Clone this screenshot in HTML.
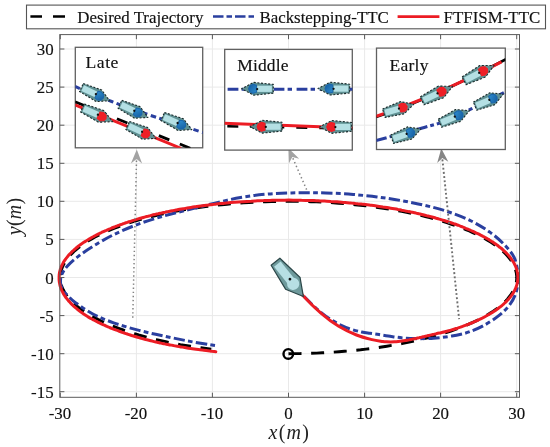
<!DOCTYPE html>
<html><head><meta charset="utf-8"><title>Trajectory</title>
<style>html,body{margin:0;padding:0;background:#fff}svg{display:block}</style></head>
<body>
<svg width="550" height="447" viewBox="0 0 550 447" style="display:block">
<defs>
<linearGradient id="bg" x1="0" y1="0" x2="1" y2="1"><stop offset="0" stop-color="#2f8fd0"/><stop offset="1" stop-color="#14599c"/></linearGradient>
<g id="bb"><polygon points="-15.6,-4.3 3.9,-6.3 15.9,0.0 3.9,6.3 -15.6,4.3" fill="#5f9193" stroke="#1b2b2c" stroke-width="1.1" stroke-dasharray="2 1.6" stroke-linejoin="round"/><rect x="-14.2" y="-3.05" width="14.6" height="6.1" fill="#b4e0e4"/><polygon points="1.2,-3.5 4.6,-4.4 7.8,-3.0 9.0,0.0 7.8,3.0 4.6,4.4 1.2,3.5" fill="url(#bg)" stroke="#1a66ad" stroke-width="1" stroke-linejoin="round"/><circle cx="0.4" cy="-0.2" r="1.1" fill="#111"/></g>
<g id="br"><polygon points="-15.6,-4.3 3.9,-6.3 15.9,0.0 3.9,6.3 -15.6,4.3" fill="#5f9193" stroke="#1b2b2c" stroke-width="1.1" stroke-dasharray="2 1.6" stroke-linejoin="round"/><rect x="-14.2" y="-3.05" width="14.6" height="6.1" fill="#b4e0e4"/><polygon points="1.2,-3.5 4.6,-4.4 7.8,-3.0 9.0,0.0 7.8,3.0 4.6,4.4 1.2,3.5" fill="#ee1f26" stroke="#ee1f26" stroke-width="1" stroke-linejoin="round"/><circle cx="0.4" cy="-0.2" r="1.1" fill="#111"/></g>
<g id="bm"><polygon points="0.0,-5.6 27.7,-9.3 44.6,0.0 27.7,9.3 0.0,5.6" fill="#6e9a9c" stroke="#2b4648" stroke-width="1.2" stroke-linejoin="round"/><rect x="3" y="-4.2" width="23" height="8.4" fill="#b7dfe4"/><circle cx="28.3" cy="0" r="6.1" fill="#b7dfe4"/><circle cx="22.6" cy="-0.4" r="1.4" fill="#111"/></g>
<clipPath id="c1"><rect x="75.3" y="47.3" width="127.4" height="100.5"/></clipPath>
<clipPath id="c2"><rect x="224.7" y="49.4" width="127.6" height="100.7"/></clipPath>
<clipPath id="c3"><rect x="376.5" y="48.1" width="128.8" height="101.4"/></clipPath>
</defs>
<rect width="550" height="447" fill="#fff"/>
<path d="M136.4 34.6V397.3M212.4 34.6V397.3M288.5 34.6V397.3M364.6 34.6V397.3M440.6 34.6V397.3M516.7 34.6V397.3M59.8 391.7H519.5M59.8 353.7H519.5M59.8 315.6H519.5M59.8 277.5H519.5M59.8 239.4H519.5M59.8 201.3H519.5M59.8 163.3H519.5M59.8 125.2H519.5M59.8 87.1H519.5M59.8 49.0H519.5" stroke="#e9e9e9" stroke-width="1" fill="none"/>
<path d="M60.3 397.3v-4.6M60.3 34.6v4.6M136.4 397.3v-4.6M136.4 34.6v4.6M212.4 397.3v-4.6M212.4 34.6v4.6M288.5 397.3v-4.6M288.5 34.6v4.6M364.6 397.3v-4.6M364.6 34.6v4.6M440.6 397.3v-4.6M440.6 34.6v4.6M516.7 397.3v-4.6M516.7 34.6v4.6M59.8 391.7h4.6M519.5 391.7h-4.6M59.8 353.7h4.6M519.5 353.7h-4.6M59.8 315.6h4.6M519.5 315.6h-4.6M59.8 277.5h4.6M519.5 277.5h-4.6M59.8 239.4h4.6M519.5 239.4h-4.6M59.8 201.3h4.6M519.5 201.3h-4.6M59.8 163.3h4.6M519.5 163.3h-4.6M59.8 125.2h4.6M519.5 125.2h-4.6M59.8 87.1h4.6M519.5 87.1h-4.6M59.8 49.0h4.6M519.5 49.0h-4.6" stroke="#5a5a5a" stroke-width="1" fill="none"/>
<path d="M288.5 353.7L294.1 353.6L299.8 353.6L305.4 353.5L311.0 353.3L316.7 353.1L322.3 352.8L327.8 352.5L333.4 352.2L338.9 351.8L344.4 351.3L349.8 350.9L355.3 350.3L360.6 349.8L366.0 349.1L371.3 348.5L376.5 347.8L381.7 347.0L386.8 346.2L391.9 345.4L396.9 344.5L401.8 343.6L406.7 342.7L411.5 341.7L416.2 340.6L420.8 339.5L425.4 338.4L429.9 337.3L434.3 336.1L438.6 334.9L442.8 333.6L446.9 332.3L450.9 331.0L454.8 329.7L458.6 328.3L462.3 326.8L465.9 325.4L469.4 323.9L472.8 322.4L476.1 320.9L479.3 319.3L482.3 317.7L485.2 316.1L488.0 314.5L490.7 312.8L493.3 311.1L495.7 309.4L498.0 307.7L500.2 306.0L502.2 304.2L504.1 302.4L505.9 300.7L507.6 298.9L509.1 297.0L510.5 295.2L511.7 293.4L512.8 291.5L513.8 289.7L514.6 287.8L515.3 285.9L515.9 284.1L516.3 282.2L516.6 280.3L516.7 278.4L516.7 276.5L516.5 274.6L516.3 272.8L515.8 270.9L515.3 269.0L514.6 267.1L513.8 265.3L512.8 263.4L511.7 261.6L510.4 259.7L509.0 257.9L507.5 256.1L505.9 254.3L504.1 252.5L502.2 250.7L500.1 249.0L497.9 247.2L495.6 245.5L493.2 243.8L490.6 242.1L487.9 240.5L485.1 238.8L482.2 237.2L479.2 235.6L476.0 234.1L472.7 232.6L469.3 231.0L465.8 229.6L462.2 228.1L458.5 226.7L454.7 225.3L450.8 224.0L446.8 222.6L442.6 221.3L438.4 220.1L434.1 218.9L429.7 217.7L425.3 216.5L420.7 215.4L416.1 214.3L411.3 213.3L406.5 212.3L401.7 211.4L396.7 210.5L391.7 209.6L386.7 208.7L381.5 208.0L376.4 207.2L371.1 206.5L365.8 205.8L360.5 205.2L355.1 204.7L349.7 204.1L344.2 203.6L338.7 203.2L333.2 202.8L327.7 202.5L322.1 202.2L316.5 201.9L310.9 201.7L305.3 201.5L299.6 201.4L294.0 201.4L288.3 201.3L282.7 201.4L277.1 201.4L271.4 201.6L265.8 201.7L260.2 201.9L254.6 202.2L249.0 202.5L243.5 202.8L237.9 203.2L232.5 203.7L227.0 204.2L221.6 204.7L216.2 205.3L210.9 205.9L205.6 206.5L200.4 207.3L195.2 208.0L190.0 208.8L185.0 209.6L180.0 210.5L175.0 211.4L170.2 212.4L165.4 213.4L160.7 214.4L156.0 215.5L151.5 216.6L147.0 217.7L142.6 218.9L138.3 220.2L134.1 221.4L130.0 222.7L126.0 224.0L122.1 225.4L118.3 226.8L114.6 228.2L111.0 229.6L107.5 231.1L104.1 232.6L100.8 234.2L97.7 235.7L94.6 237.3L91.7 238.9L88.9 240.6L86.2 242.2L83.7 243.9L81.3 245.6L79.0 247.3L76.8 249.1L74.7 250.8L72.8 252.6L71.0 254.4L69.4 256.2L67.9 258.0L66.5 259.8L65.3 261.7L64.2 263.5L63.2 265.4L62.4 267.2L61.7 269.1L61.1 271.0L60.7 272.9L60.4 274.8L60.3 276.6L60.3 278.5L60.5 280.4L60.7 282.3L61.2 284.2L61.7 286.0L62.4 287.9L63.3 289.8L64.3 291.6L65.4 293.5L66.6 295.3L68.0 297.1L69.5 299.0L71.2 300.8L73.0 302.5L74.9 304.3L77.0 306.1L79.1 307.8L81.5 309.5L83.9 311.2L86.5 312.9L89.1 314.6L91.9 316.2L94.9 317.8L97.9 319.4L101.1 321.0L104.4 322.5L107.8 324.0L111.3 325.5L114.9 326.9L118.6 328.3L122.4 329.7L126.3 331.1L130.4 332.4L134.5 333.7L138.7 335.0L143.0 336.2L147.4 337.4L151.9 338.5L156.4 339.6L161.1 340.7L165.8 341.7L170.6 342.7L175.5 343.7L180.4 344.6L185.4 345.4L190.5 346.3L195.6 347.1L200.8 347.8L206.0 348.5L211.3 349.2" stroke="#000" stroke-width="2.9" stroke-dasharray="13 9.65" fill="none"/>
<path d="M288.5 277.5C290.9 280.5 297.7 289.7 303.1 295.5C308.5 301.3 315.9 308.1 320.9 312.3C325.9 316.5 328.8 318.2 333.0 320.8C337.2 323.4 341.6 325.7 346.4 327.6C351.2 329.5 357.7 331.1 361.6 332.0C365.5 332.9 367.1 332.9 370.0 333.3C372.9 333.7 376.1 334.2 379.1 334.6C382.1 335.1 385.2 335.6 388.2 336.0C391.2 336.4 394.3 336.9 397.3 337.3C400.3 337.7 403.4 338.0 406.4 338.2C409.4 338.4 412.5 338.5 415.5 338.6C418.5 338.7 421.5 338.7 424.5 338.6C427.5 338.5 430.6 338.4 433.6 338.2C436.6 338.0 439.7 337.7 442.7 337.3C445.7 336.9 448.8 336.5 451.8 336.0C454.8 335.5 457.9 334.9 460.9 334.2C463.9 333.5 466.1 333.1 470.0 331.6C473.9 330.1 479.3 328.1 484.2 325.3C489.1 322.6 495.2 318.5 499.4 315.1C503.6 311.7 506.9 308.5 509.6 304.9C512.3 301.3 514.4 297.4 515.8 293.4C517.2 289.4 517.7 284.5 518.0 280.7C518.3 276.9 518.3 274.4 517.6 270.5C516.9 266.6 516.1 261.3 513.9 257.0C511.7 252.7 508.3 248.8 504.4 244.7C500.4 240.6 495.7 236.3 490.2 232.4C484.7 228.5 478.3 224.5 471.2 221.0C464.1 217.5 455.3 214.2 447.4 211.5C439.5 208.8 431.6 206.9 423.7 205.1C415.8 203.2 407.8 201.8 400.0 200.4C392.2 199.0 384.5 197.9 377.0 196.9C369.5 195.9 360.8 195.2 355.0 194.6C349.2 194.0 348.7 193.9 342.3 193.6C335.9 193.3 325.3 192.9 316.8 192.8C308.3 192.7 299.9 192.7 291.4 192.9C282.9 193.1 274.4 193.4 265.9 194.2C257.4 195.0 249.0 196.0 240.5 197.5C232.0 199.0 223.4 201.1 215.0 203.1C206.6 205.1 198.4 207.2 190.0 209.3C181.6 211.4 173.0 213.4 164.5 215.8C156.0 218.2 147.6 220.7 139.1 223.8C130.6 227.0 121.2 231.0 113.6 234.7C106.0 238.4 99.2 242.5 93.3 246.2C87.4 249.8 82.4 253.2 78.0 256.6C73.6 260.0 69.6 263.7 67.0 266.5C64.4 269.3 63.4 271.4 62.3 273.5C61.2 275.6 60.9 277.2 60.6 279.0C60.4 280.8 60.4 282.7 60.8 284.5C61.2 286.3 61.9 288.2 63.0 290.0C64.1 291.8 65.4 293.4 67.5 295.5C69.6 297.6 71.2 299.6 75.5 302.7C79.8 305.8 87.0 310.8 93.3 314.2C99.6 317.6 106.0 320.1 113.6 322.8C121.2 325.5 130.6 328.2 139.1 330.4C147.6 332.6 156.0 334.4 164.5 336.2C173.0 338.0 181.6 339.8 190.0 341.4C198.4 343.0 210.8 344.9 215.0 345.6" stroke="#2a3f9f" stroke-width="3" stroke-dasharray="11.2 3.3 4.8 3.35" stroke-dashoffset="20.55" fill="none"/>
<path d="M288.5 277.5C290.9 280.6 297.7 289.9 303.1 295.8C308.5 301.7 315.0 308.0 320.9 313.1C326.8 318.2 332.8 322.7 338.7 326.3C344.6 329.9 350.9 332.8 356.5 335.0C362.1 337.2 367.6 338.5 372.0 339.6C376.4 340.7 380.4 341.1 382.8 341.5C385.3 341.9 385.5 341.8 386.8 341.8C388.0 341.9 389.3 341.9 390.6 341.9C391.9 341.9 393.2 341.9 394.4 341.8C395.7 341.8 396.9 341.7 398.2 341.5C399.4 341.4 400.6 341.2 401.9 341.1C403.1 340.9 404.3 340.7 405.5 340.5C406.7 340.3 407.9 340.1 409.1 339.9C410.3 339.6 411.4 339.4 412.6 339.1C413.8 338.9 414.9 338.6 416.1 338.4C417.3 338.1 418.4 337.9 419.5 337.6C420.7 337.4 421.8 337.1 423.0 336.8C424.1 336.6 425.2 336.3 426.3 336.1C427.4 335.8 428.5 335.5 429.6 335.3C430.7 335.0 431.8 334.8 432.9 334.5C434.0 334.3 435.1 334.0 436.2 333.8C437.3 333.5 438.3 333.3 439.4 333.1C440.5 332.8 441.5 332.6 442.6 332.3C443.6 332.1 444.6 331.8 445.7 331.5C446.7 331.3 447.7 331.0 448.7 330.7C449.7 330.5 450.8 330.2 451.7 329.9C452.7 329.6 453.7 329.3 454.7 329.0C455.7 328.7 456.6 328.4 457.6 328.1C458.5 327.8 459.5 327.5 460.4 327.2C461.3 326.8 462.3 326.5 463.2 326.2C464.1 325.9 465.0 325.5 465.9 325.2C466.8 324.9 467.7 324.5 468.5 324.2C469.4 323.8 470.3 323.5 471.1 323.1C472.0 322.8 472.8 322.4 473.6 322.1C474.5 321.7 475.3 321.4 476.1 321.0C476.9 320.7 477.7 320.3 478.5 319.9C479.3 319.6 480.1 319.2 480.8 318.8C481.6 318.4 482.4 318.1 483.1 317.7C483.9 317.3 484.6 316.9 485.3 316.5C486.0 316.1 486.7 315.7 487.4 315.3C488.1 314.9 488.8 314.5 489.5 314.1C490.2 313.7 490.8 313.3 491.5 312.9C492.2 312.5 492.8 312.1 493.4 311.7C494.1 311.3 494.7 310.9 495.3 310.5C495.9 310.0 496.5 309.6 497.1 309.2C497.7 308.8 498.3 308.4 498.8 307.9C499.4 307.5 499.9 307.1 500.5 306.7C501.0 306.2 501.5 305.8 502.1 305.4C502.6 305.0 503.1 304.5 503.6 304.1C504.1 303.7 504.6 303.2 505.0 302.8C505.5 302.3 505.9 301.9 506.4 301.5C506.8 301.0 507.3 300.6 507.7 300.1C508.1 299.7 508.5 299.2 508.9 298.8C509.3 298.3 509.7 297.9 510.1 297.4C510.4 296.9 510.8 296.5 511.1 296.0C511.5 295.6 511.8 295.1 512.1 294.6C512.4 294.2 512.7 293.7 513.0 293.2C513.3 292.8 513.6 292.3 513.9 291.8C514.1 291.3 514.4 290.9 514.6 290.4C514.9 289.9 515.1 289.4 515.3 289.0C515.5 288.5 515.7 288.0 515.9 287.5C516.1 287.1 516.3 286.6 516.4 286.1C516.6 285.6 516.7 285.1 516.9 284.6C517.0 284.2 517.1 283.7 517.2 283.2C517.4 282.7 517.5 282.2 517.5 281.7C517.6 281.2 517.7 280.8 517.7 280.3C517.8 279.8 517.8 279.3 517.9 278.8C517.9 278.3 517.9 277.8 517.9 277.3C517.9 276.8 517.9 276.4 517.9 275.9C517.8 275.4 517.8 274.9 517.7 274.4C517.7 273.9 517.6 273.4 517.5 272.9C517.4 272.4 517.3 271.9 517.2 271.5C517.1 271.0 517.0 270.5 516.9 270.0C516.7 269.5 516.6 269.0 516.4 268.5C516.2 268.1 516.1 267.6 515.9 267.1C515.7 266.6 515.5 266.1 515.3 265.7C515.0 265.2 514.8 264.7 514.6 264.2C514.3 263.7 514.1 263.3 513.8 262.8C513.5 262.3 513.2 261.8 513.0 261.4C512.7 260.9 512.4 260.4 512.0 260.0C511.7 259.5 511.4 259.0 511.0 258.6C510.7 258.1 510.3 257.6 510.0 257.2C509.6 256.7 509.2 256.2 508.8 255.8C508.4 255.3 508.0 254.9 507.6 254.4C507.2 253.9 506.7 253.5 506.3 253.0C505.9 252.6 505.4 252.1 504.9 251.7C504.5 251.2 504.0 250.8 503.5 250.3C503.0 249.9 502.5 249.4 502.0 249.0C501.5 248.5 500.9 248.1 500.4 247.7C499.9 247.2 499.3 246.8 498.7 246.4C498.2 245.9 497.6 245.5 497.0 245.1C496.4 244.6 495.8 244.2 495.2 243.8C494.6 243.3 494.0 242.9 493.4 242.5C492.7 242.1 492.1 241.6 491.4 241.2C490.8 240.8 490.1 240.4 489.4 240.0C488.7 239.6 488.0 239.1 487.3 238.7C486.6 238.3 485.9 237.9 485.2 237.5C484.5 237.1 483.8 236.7 483.0 236.3C482.3 235.9 481.5 235.5 480.7 235.1C480.0 234.7 479.2 234.3 478.4 233.9C477.6 233.5 476.8 233.1 476.0 232.8C475.2 232.4 474.4 232.0 473.6 231.6C472.7 231.2 471.9 230.9 471.0 230.5C470.2 230.1 469.3 229.7 468.4 229.4C467.6 229.0 466.7 228.6 465.8 228.3C464.9 227.9 464.0 227.5 463.1 227.2C462.2 226.8 461.3 226.5 460.3 226.1C459.4 225.7 458.5 225.4 457.5 225.0C456.6 224.7 455.6 224.4 454.6 224.0C453.7 223.7 452.7 223.3 451.7 223.0C450.7 222.7 449.7 222.3 448.7 222.0C447.7 221.7 446.7 221.3 445.7 221.0C444.7 220.7 443.6 220.4 442.6 220.1C441.5 219.8 440.5 219.4 439.4 219.1C438.4 218.8 437.3 218.5 436.2 218.2C435.2 217.9 434.1 217.6 433.0 217.3C431.9 217.0 430.8 216.7 429.7 216.4C428.6 216.1 427.5 215.9 426.4 215.6C425.2 215.3 424.1 215.0 423.0 214.7C421.8 214.5 420.7 214.2 419.5 213.9C418.4 213.6 417.2 213.4 416.0 213.1C414.9 212.9 413.7 212.6 412.5 212.3C411.3 212.1 410.2 211.8 409.0 211.6C407.8 211.3 406.6 211.1 405.4 210.9C404.1 210.6 402.9 210.4 401.7 210.2C400.5 209.9 399.3 209.7 398.0 209.5C396.8 209.2 395.6 209.0 394.3 208.8C393.1 208.6 391.8 208.4 390.6 208.2C389.3 208.0 388.0 207.7 386.8 207.5C385.5 207.3 384.2 207.1 382.9 207.0C381.7 206.8 380.4 206.6 379.1 206.4C377.8 206.2 376.5 206.0 375.2 205.8C373.9 205.7 372.6 205.5 371.3 205.3C370.0 205.1 368.7 205.0 367.3 204.8C366.0 204.7 364.7 204.5 363.4 204.3C362.0 204.2 360.7 204.0 359.4 203.9C358.0 203.8 356.7 203.6 355.4 203.5C354.0 203.3 352.7 203.2 351.3 203.1C350.0 202.9 348.6 202.8 347.2 202.7C345.9 202.6 344.5 202.5 343.2 202.4C341.8 202.2 340.4 202.1 339.1 202.0C337.7 201.9 336.3 201.8 334.9 201.7C333.6 201.6 332.2 201.5 330.8 201.5C329.4 201.4 328.0 201.3 326.7 201.2C325.3 201.1 323.9 201.1 322.5 201.0C321.1 200.9 319.7 200.9 318.3 200.8C316.9 200.7 315.5 200.7 314.1 200.6C312.7 200.6 311.3 200.5 310.0 200.5C308.6 200.4 307.2 200.4 305.8 200.4C304.4 200.3 302.9 200.3 301.5 200.3C300.1 200.2 298.7 200.2 297.3 200.2C295.9 200.2 294.5 200.2 293.1 200.2C291.7 200.1 290.3 200.1 288.9 200.1C287.5 200.1 286.1 200.1 284.7 200.2C283.3 200.2 281.9 200.2 280.5 200.2C279.1 200.2 277.7 200.2 276.3 200.2C274.9 200.3 273.5 200.3 272.1 200.3C270.7 200.4 269.3 200.4 267.9 200.5C266.5 200.5 265.1 200.5 263.7 200.6C262.3 200.6 260.9 200.7 259.5 200.8C258.1 200.8 256.7 200.9 255.3 200.9C253.9 201.0 252.5 201.1 251.2 201.2C249.8 201.2 248.4 201.3 247.0 201.4C245.6 201.5 244.2 201.6 242.9 201.7C241.5 201.8 240.1 201.9 238.7 202.0C237.4 202.1 236.0 202.2 234.6 202.3C233.3 202.4 231.9 202.5 230.5 202.6C229.2 202.8 227.8 202.9 226.5 203.0C225.1 203.1 223.8 203.3 222.4 203.4C221.1 203.5 219.7 203.7 218.4 203.8C217.1 204.0 215.7 204.1 214.4 204.3C213.1 204.4 211.8 204.6 210.4 204.7C209.1 204.9 207.8 205.0 206.5 205.2C205.2 205.4 203.9 205.6 202.6 205.7C201.3 205.9 200.0 206.1 198.7 206.3C197.4 206.5 196.1 206.6 194.8 206.8C193.5 207.0 192.3 207.2 191.0 207.4C189.7 207.6 188.4 207.8 187.2 208.0C185.9 208.2 184.7 208.5 183.4 208.7C182.2 208.9 180.9 209.1 179.7 209.3C178.5 209.6 177.2 209.8 176.0 210.0C174.8 210.2 173.6 210.5 172.4 210.7C171.1 211.0 169.9 211.2 168.7 211.4C167.5 211.7 166.4 211.9 165.2 212.2C164.0 212.4 162.8 212.7 161.6 213.0C160.5 213.2 159.3 213.5 158.1 213.8C157.0 214.0 155.8 214.3 154.7 214.6C153.6 214.8 152.4 215.1 151.3 215.4C150.2 215.7 149.1 216.0 148.0 216.3C146.8 216.5 145.7 216.8 144.6 217.1C143.6 217.4 142.5 217.7 141.4 218.0C140.3 218.3 139.2 218.6 138.2 218.9C137.1 219.3 136.1 219.6 135.0 219.9C134.0 220.2 132.9 220.5 131.9 220.8C130.9 221.2 129.9 221.5 128.9 221.8C127.9 222.1 126.9 222.5 125.9 222.8C124.9 223.1 123.9 223.5 122.9 223.8C122.0 224.2 121.0 224.5 120.0 224.8C119.1 225.2 118.1 225.5 117.2 225.9C116.3 226.2 115.3 226.6 114.4 227.0C113.5 227.3 112.6 227.7 111.7 228.0C110.8 228.4 109.9 228.8 109.1 229.1C108.2 229.5 107.3 229.9 106.5 230.3C105.6 230.6 104.8 231.0 103.9 231.4C103.1 231.8 102.3 232.1 101.5 232.5C100.7 232.9 99.8 233.3 99.1 233.7C98.3 234.1 97.5 234.5 96.7 234.9C95.9 235.3 95.2 235.7 94.4 236.1C93.7 236.5 92.9 236.9 92.2 237.3C91.5 237.7 90.8 238.1 90.1 238.5C89.4 238.9 88.7 239.3 88.0 239.7C87.3 240.1 86.6 240.6 86.0 241.0C85.3 241.4 84.7 241.8 84.0 242.2C83.4 242.7 82.8 243.1 82.1 243.5C81.5 243.9 80.9 244.4 80.3 244.8C79.7 245.2 79.2 245.7 78.6 246.1C78.0 246.5 77.5 247.0 76.9 247.4C76.4 247.9 75.8 248.3 75.3 248.7C74.8 249.2 74.3 249.6 73.8 250.1C73.3 250.5 72.8 251.0 72.3 251.4C71.9 251.9 71.4 252.3 71.0 252.8C70.5 253.2 70.1 253.7 69.6 254.1C69.2 254.6 68.8 255.0 68.4 255.5C68.0 256.0 67.6 256.4 67.3 256.9C66.9 257.4 66.5 257.8 66.2 258.3C65.8 258.7 65.5 259.2 65.2 259.7C64.8 260.2 64.5 260.6 64.2 261.1C63.9 261.6 63.6 262.0 63.4 262.5C63.1 263.0 62.8 263.5 62.6 263.9C62.3 264.4 62.1 264.9 61.9 265.4C61.7 265.9 61.4 266.3 61.2 266.8C61.1 267.3 60.9 267.8 60.7 268.3C60.5 268.7 60.4 269.2 60.2 269.7C60.1 270.2 60.0 270.7 59.8 271.2C59.7 271.7 59.6 272.2 59.5 272.6C59.4 273.1 59.4 273.6 59.3 274.1C59.2 274.6 59.2 275.1 59.2 275.6C59.1 276.1 59.1 276.6 59.1 277.0C59.1 277.5 59.1 278.0 59.1 278.5C59.1 279.0 59.1 279.5 59.1 280.0C59.2 280.5 59.2 281.0 59.3 281.5C59.3 282.0 59.4 282.5 59.5 283.0C59.6 283.4 59.7 283.9 59.8 284.4C59.9 284.9 60.0 285.4 60.1 285.9C60.3 286.4 60.4 286.9 60.6 287.4C60.8 287.9 60.9 288.4 61.1 288.9C61.3 289.4 61.5 289.9 61.8 290.4C62.0 290.8 62.2 291.3 62.5 291.8C62.7 292.3 63.0 292.8 63.2 293.3C63.5 293.8 63.8 294.3 64.1 294.8C64.4 295.2 64.7 295.7 65.0 296.2C65.4 296.7 65.7 297.2 66.0 297.7C66.4 298.1 66.8 298.6 67.1 299.1C67.5 299.6 67.9 300.0 68.3 300.5C68.7 301.0 69.1 301.5 69.6 301.9C70.0 302.4 70.4 302.9 70.9 303.4C71.3 303.8 71.8 304.3 72.3 304.8C72.8 305.2 73.2 305.7 73.7 306.2C74.2 306.6 74.8 307.1 75.3 307.5C75.8 308.0 76.4 308.4 76.9 308.9C77.5 309.4 78.0 309.8 78.6 310.3C79.2 310.7 79.8 311.2 80.3 311.6C80.9 312.1 81.6 312.5 82.2 312.9C82.8 313.4 83.4 313.8 84.1 314.3C84.7 314.7 85.4 315.1 86.1 315.6C86.7 316.0 87.4 316.4 88.1 316.9C88.8 317.3 89.5 317.7 90.2 318.1C90.9 318.5 91.7 318.9 92.4 319.3C93.2 319.7 93.9 320.1 94.7 320.5C95.4 320.9 96.2 321.3 97.0 321.7C97.8 322.1 98.6 322.5 99.4 322.9C100.2 323.3 101.0 323.7 101.8 324.1C102.7 324.5 103.5 324.9 104.4 325.2C105.2 325.6 106.1 326.0 106.9 326.4C107.8 326.7 108.7 327.1 109.6 327.5C110.5 327.8 111.4 328.2 112.3 328.6C113.2 328.9 114.1 329.3 115.0 329.7C115.9 330.0 116.9 330.4 117.8 330.7C118.8 331.1 119.7 331.4 120.7 331.8C121.7 332.1 122.6 332.5 123.6 332.8C124.6 333.1 125.6 333.5 126.6 333.8C127.6 334.1 128.6 334.5 129.6 334.8C130.6 335.1 131.7 335.4 132.7 335.8C133.7 336.1 134.8 336.4 135.8 336.7C136.9 337.0 138.0 337.3 139.0 337.7C140.1 338.0 141.2 338.3 142.3 338.6C143.4 338.9 144.5 339.2 145.6 339.5C146.7 339.7 147.8 340.0 148.9 340.3C150.0 340.6 151.2 340.9 152.3 341.1C153.4 341.4 154.6 341.7 155.7 341.9C156.9 342.2 158.0 342.5 159.2 342.7C160.4 343.0 161.5 343.2 162.7 343.5C163.9 343.7 165.1 344.0 166.3 344.2C167.5 344.5 168.7 344.7 169.9 344.9C171.1 345.2 172.3 345.4 173.5 345.6C174.8 345.9 176.0 346.1 177.2 346.3C178.4 346.5 179.7 346.7 180.9 346.9C182.2 347.2 183.4 347.4 184.7 347.6C185.9 347.8 187.2 348.0 188.5 348.2C189.7 348.4 191.0 348.6 192.3 348.7C193.6 348.9 194.9 349.1 196.1 349.3C197.4 349.5 198.7 349.7 200.0 349.8C201.3 350.0 202.6 350.2 203.9 350.3C205.2 350.5 206.6 350.7 207.9 350.8C209.2 351.0 210.5 351.1 211.8 351.3C213.2 351.4 215.2 351.6 215.8 351.7" stroke="#ec1c24" stroke-width="3" stroke-linecap="round" fill="none"/>
<rect x="59.8" y="34.6" width="459.7" height="362.7" fill="none" stroke="#5a5a5a" stroke-width="1"/>
<circle cx="288.3" cy="353.9" r="4.8" fill="#fff" fill-opacity="0" stroke="#000" stroke-width="2.4"/>
<use href="#bm" transform="translate(275.5 261.75) rotate(51.3)"/>
<path d="M136.5 160.5L132.7 320.0" stroke="#838383" stroke-width="1.5" stroke-dasharray="1.4 2.7" fill="none"/><polygon points="136.8,149.5 142.1,163.6 136.6,159.0 130.9,163.4" fill="#a3a3a3"/>
<path d="M292.9 158.3L306.6 189.6" stroke="#838383" stroke-width="1.5" stroke-dasharray="1.4 2.7" fill="none"/><polygon points="288.5,148.2 299.2,158.8 292.3,156.9 289.0,163.3" fill="#a3a3a3"/>
<path d="M442.4 159.4L459.1 319.1" stroke="#6f6f6f" stroke-width="1.9" stroke-dasharray="1.9 2.3" fill="none"/><polygon points="441.3,148.5 448.3,161.8 442.3,157.9 437.2,163.0" fill="#858585"/>
<rect x="75.3" y="47.3" width="127.4" height="100.5" fill="#fff" stroke="#606060" stroke-width="1.3"/>
<g clip-path="url(#c1)">
<path d="M75.0 86.4C78.0 87.7 86.9 91.7 93.0 94.2C99.1 96.7 104.9 98.9 111.7 101.5C118.5 104.1 126.0 107.0 134.0 109.8C142.1 112.6 152.3 116.0 160.0 118.5C167.7 121.0 172.8 122.7 180.0 125.0C187.2 127.3 199.2 131.3 203.0 132.6" stroke="#2a3f9f" stroke-width="3.1" stroke-dasharray="5.5 3.5" fill="none"/>
<path d="M75 101.8L192 149" stroke="#000" stroke-width="2.8" stroke-dasharray="11.3 11.3" fill="none"/>
<path d="M75 104.9L181 148.3" stroke="#ec1c24" stroke-width="3" fill="none"/>
<use href="#bb" transform="translate(95.4 94.1) rotate(25.1) scale(0.990 1.02)"/>
<use href="#bb" transform="translate(133.8 110.8) rotate(25.1) scale(0.983 1.02)"/>
<use href="#bb" transform="translate(177.1 123.0) rotate(24.2) scale(1.015 1.02)"/>
<use href="#br" transform="translate(97.4 114.7) rotate(24.2) scale(1.054 1.02)"/>
<use href="#br" transform="translate(141.6 131.8) rotate(24.6) scale(0.986 1.02)"/>
</g>
<text x="85.5" y="68.3" font-family="'Liberation Serif',serif" font-size="17.6" letter-spacing="0.55" fill="#111" stroke="#111" stroke-width="0.15">Late</text>
<rect x="224.7" y="49.4" width="127.6" height="100.7" fill="#fff" stroke="#606060" stroke-width="1.3"/>
<g clip-path="url(#c2)">
<path d="M227.6 89.2H353" stroke="#2a3f9f" stroke-width="3.1" stroke-dasharray="10.8 3.2 4.4 4.6" fill="none"/>
<path d="M227.3 126.3L353 128.4" stroke="#000" stroke-width="2.6" stroke-dasharray="11 12" fill="none"/>
<path d="M224 123.2L353 128" stroke="#ec1c24" stroke-width="3" fill="none"/>
<use href="#bb" transform="translate(257.6 88.8) rotate(180.0) scale(1.006 1.02)"/>
<use href="#bb" transform="translate(334.0 88.6) rotate(180.0) scale(1.006 1.02)"/>
<use href="#br" transform="translate(266.2 126.7) rotate(180.0) scale(1.016 1.02)"/>
<use href="#br" transform="translate(335.8 126.9) rotate(180.0) scale(1.016 1.02)"/>
</g>
<text x="237.2" y="71" font-family="'Liberation Serif',serif" font-size="17.5" letter-spacing="0.15" fill="#111" stroke="#111" stroke-width="0.15">Middle</text>
<rect x="376.5" y="48.1" width="128.8" height="101.4" fill="#fff" stroke="#606060" stroke-width="1.3"/>
<g clip-path="url(#c3)">
<path d="M376 117Q432.1 98.4 506 59.2" stroke="#000" stroke-width="2.8" fill="none"/>
<path d="M376 116.3Q432.1 97.7 501.5 61.8" stroke="#ec1c24" stroke-width="3" fill="none"/>
<path d="M376.0 140.6C380.0 139.5 392.0 136.2 400.0 134.0C408.0 131.8 417.4 129.3 424.2 127.4C431.0 125.5 435.9 124.4 441.0 122.6C446.1 120.8 450.1 118.7 455.0 116.5C459.9 114.3 465.2 111.8 470.7 109.2C476.2 106.6 482.1 103.8 488.0 100.8C493.9 97.8 503.0 93.0 506.0 91.4" stroke="#2a3f9f" stroke-width="3.1" stroke-dasharray="11 3 4 3" fill="none"/>
<use href="#br" transform="translate(398.6 108.8) rotate(-16.5) scale(0.989 1.02)"/>
<use href="#br" transform="translate(437.2 93.7) rotate(-25.5) scale(1.070 1.02)"/>
<use href="#br" transform="translate(478.9 73.2) rotate(-27.2) scale(1.070 1.02)"/>
<use href="#bb" transform="translate(406.3 134.2) rotate(-19.5) scale(0.970 1.02)"/>
<use href="#bb" transform="translate(454.5 117.0) rotate(-23.2) scale(1.017 1.02)"/>
<use href="#bb" transform="translate(489.0 100.2) rotate(-23.1) scale(0.970 1.02)"/>
</g>
<text x="389.4" y="70.8" font-family="'Liberation Serif',serif" font-size="17.5" letter-spacing="0.3" fill="#111" stroke="#111" stroke-width="0.15">Early</text>
<g font-family="'Liberation Serif',serif" font-size="16.9" fill="#111" stroke="#111" stroke-width="0.15" text-anchor="end">
<text x="53.6" y="397.7">-15</text>
<text x="53.6" y="359.7">-10</text>
<text x="53.6" y="321.6">-5</text>
<text x="53.6" y="283.5">0</text>
<text x="53.6" y="245.4">5</text>
<text x="53.6" y="207.3">10</text>
<text x="53.6" y="169.3">15</text>
<text x="53.6" y="131.2">20</text>
<text x="53.6" y="93.1">25</text>
<text x="53.6" y="55.0">30</text>
</g>
<g font-family="'Liberation Serif',serif" font-size="16.9" fill="#111" stroke="#111" stroke-width="0.15" text-anchor="middle">
<text x="59.9" y="419.3">-30</text>
<text x="136.0" y="419.3">-20</text>
<text x="212.0" y="419.3">-10</text>
<text x="288.5" y="419.3">0</text>
<text x="364.6" y="419.3">10</text>
<text x="440.6" y="419.3">20</text>
<text x="516.7" y="419.3">30</text>
</g>
<text x="289.3" y="439.4" font-family="'Liberation Serif',serif" font-size="20" fill="#222" text-anchor="middle" letter-spacing="1.2"><tspan font-style="italic">x</tspan>(<tspan font-style="italic">m</tspan>)</text>
<text transform="translate(20.8 216.4) rotate(-90)" font-family="'Liberation Serif',serif" font-size="20" fill="#222" text-anchor="middle" letter-spacing="0.2"><tspan font-style="italic">y</tspan>(<tspan font-style="italic">m</tspan>)</text>
<rect x="26.5" y="5.1" width="519" height="23.7" fill="#fff" stroke="#555" stroke-width="1.1"/>
<path d="M30.4 16.6H42M53 16.6H65" stroke="#000" stroke-width="2.5" fill="none"/>
<path d="M213 16.6H255.6" stroke="#2a3f9f" stroke-width="2.5" stroke-dasharray="10.5 3 5.5 3" fill="none"/>
<path d="M397.6 16.6H439.4" stroke="#ec1c24" stroke-width="2.6" fill="none"/>
<g font-family="'Liberation Serif',serif" font-size="16.9" fill="#111" stroke="#111" stroke-width="0.15">
<text x="77.2" y="22.5">Desired Trajectory</text>
<text x="259.4" y="22.5">Backstepping-TTC</text>
<text x="443.6" y="22.5">FTFISM-TTC</text>
</g>
</svg>
</body></html>
